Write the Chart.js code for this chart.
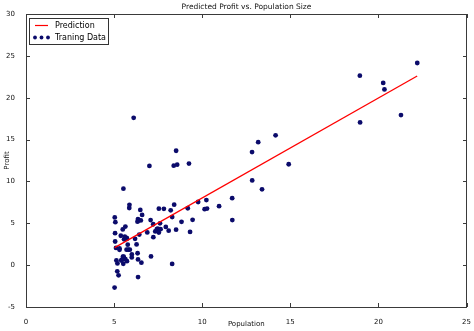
<!DOCTYPE html>
<html>
<head>
<meta charset="utf-8">
<script src="https://cdn.jsdelivr.net/npm/chart.js@4"></script>
</head>
<body style="margin:0">
<canvas id="myChart" width="474" height="331"></canvas>
<script>
// training data (population in 10,000s, profit in $10,000s)
const population = [
    6.1101, 5.5277, 8.5186, 7.0032, 5.8598, 8.3829, 7.4764, 8.5781, 6.4862, 5.0546,
    5.7107, 14.164, 5.734, 8.4084, 5.6407, 5.3794, 6.3654, 5.1301, 6.4296, 7.0708,
    6.1891, 20.27, 5.4901, 6.3261, 5.5649, 18.945, 12.828, 10.957, 13.176, 22.203,
    5.2524, 6.5894, 9.2482, 5.8918, 8.2111, 7.9334, 8.0959, 5.6063, 12.836, 6.3534,
    5.4069, 6.8825, 11.708, 5.7737, 7.8247, 7.0931, 5.0702, 5.8014, 11.7, 5.5416,
    7.5402, 5.3077, 7.4239, 7.6031, 6.3328, 6.3589, 6.2742, 5.6397, 9.3102, 9.4536,
    8.8254, 5.1793, 21.279, 14.908, 18.959, 7.2182, 8.2951, 10.236, 5.4994, 20.341,
    10.136, 7.3345, 6.0062, 7.2259, 5.0269, 6.5479, 7.5386, 5.0365, 10.274, 5.1077,
    5.7292, 5.1884, 6.3557, 9.7687, 6.5159, 8.5172, 9.1802, 6.002, 5.5204, 5.0594,
    5.7077, 7.6366, 5.8707, 5.3054, 8.2934, 13.394, 5.4369
]
const profit = [
    17.592, 9.1302, 13.662, 11.854, 6.8233, 11.886, 4.3483, 12, 6.5987, 3.8166,
    3.2522, 15.505, 3.1551, 7.2258, 0.71618, 3.5129, 5.3048, 0.56077, 3.6518, 5.3893,
    3.1386, 21.767, 4.263, 5.1875, 3.0825, 22.638, 13.501, 7.0467, 14.692, 24.147,
    -1.22, 5.9966, 12.134, 1.8495, 6.5426, 4.5623, 4.1164, 3.3928, 10.117, 5.4974,
    0.55657, 3.9115, 5.3854, 2.4406, 6.7318, 1.0463, 5.1337, 1.844, 8.0043, 1.0179,
    6.7504, 1.8396, 4.2885, 4.9981, 1.4233, -1.4211, 2.4756, 4.6042, 3.9624, 5.4141,
    5.1694, -0.74279, 17.929, 12.054, 17.054, 4.8852, 5.7442, 7.7754, 1.0173, 20.992,
    6.6799, 4.0259, 1.2784, 3.3411, -2.6807, 0.29678, 3.8845, 5.7014, 6.7526, 2.0576,
    0.47953, 0.20421, 0.67861, 7.5435, 5.3436, 4.2415, 6.7981, 0.92695, 0.152, 2.8214,
    1.8451, 4.2959, 7.2029, 1.9869, 0.14454, 9.0551, 0.61705
]

// fitted line endpoints
const lineX = [5.03, 22.2]
const lineY = [2.1, 22.6]

const xTicks = [0, 5, 10, 15, 20, 25]
const yTicks = [-5, 0, 5, 10, 15, 20, 25, 30]

const FONT = 'DejaVu Sans'
const DOT = '#0b0b6b'
const EDGE = '#3a3a3a'

// inward ticks, title and legend like matplotlib
const decor = {
    id: 'decor',
    afterDraw(chart) {
        const c = chart.ctx
        const a = chart.chartArea
        const L = Math.round(a.left), R = Math.round(a.right)
        const T = Math.round(a.top), B = Math.round(a.bottom)
        c.save()
        c.fillStyle = EDGE
        for (const v of xTicks) {
            const px = Math.round(chart.scales.x.getPixelForValue(v))
            c.fillRect(px, B - 4, 1, 4)
            c.fillRect(px, T, 1, 4)
        }
        for (const v of yTicks) {
            const py = Math.round(chart.scales.y.getPixelForValue(v))
            c.fillRect(L, py, 4, 1)
            c.fillRect(R - 4, py, 4, 1)
        }

        // title
        c.fillStyle = '#111'
        c.font = '7.5px "' + FONT + '"'
        c.textAlign = 'center'
        c.textBaseline = 'middle'
        c.fillText('Predicted Profit vs. Population Size', (L + R) / 2, 7)

        // legend
        const lx = L + 3, ly = T + 4
        c.fillStyle = '#fff'
        c.fillRect(lx, ly, 79, 26)
        c.strokeStyle = '#333'
        c.lineWidth = 1
        c.strokeRect(lx + 0.5, ly + 0.5, 79, 26)
        c.strokeStyle = 'red'
        c.lineWidth = 1.2
        c.beginPath()
        c.moveTo(lx + 6, ly + 7.5)
        c.lineTo(lx + 19, ly + 7.5)
        c.stroke()
        c.fillStyle = DOT
        for (const dx of [6, 12.5, 19]) {
            c.beginPath()
            c.arc(lx + dx, ly + 19.5, 1.9, 0, Math.PI * 2)
            c.fill()
        }
        c.fillStyle = '#000'
        c.font = '8px "' + FONT + '"'
        c.textAlign = 'left'
        c.fillText('Prediction', lx + 26, ly + 7.5)
        c.fillText('Traning Data', lx + 26, ly + 19.5)
        c.restore()
    }
}

const frameSide = (position, fit) => ({
    type: 'linear',
    position,
    min: position === 'top' ? 0 : -5,
    max: position === 'top' ? 25 : 30,
    afterFit: fit,
    grid: { display: false },
    border: { display: true, color: EDGE, width: 1 },
    ticks: { display: false }
})

new Chart(document.getElementById('myChart'), {
    type: 'scatter',
    data: {
        datasets: [{
            label: 'Prediction',
            type: 'line',
            data: lineX.map((x, i) => ({ x, y: lineY[i] })),
            borderColor: 'red',
            borderWidth: 1.3,
            pointRadius: 0,
            fill: false
        }, {
            label: 'Traning Data',
            data: population.map((x, i) => ({ x, y: profit[i] })),
            backgroundColor: DOT,
            borderColor: DOT,
            pointRadius: 2.4,
            borderWidth: 0
        }]
    },
    options: {
        responsive: false,
        animation: false,
        layout: { padding: { top: 14, right: 7, left: 0, bottom: 0 } },
        plugins: {
            legend: { display: false },
            tooltip: { enabled: false }
        },
        scales: {
            x: {
                type: 'linear',
                min: 0,
                max: 25,
                afterFit: s => { s.height = 24 },
                afterBuildTicks: s => { s.ticks = xTicks.map(value => ({ value })) },
                grid: { display: false },
                border: { display: true, color: EDGE, width: 1 },
                ticks: { color: '#111', font: { family: FONT, size: 7 }, padding: 3, maxRotation: 0 },
                title: { display: true, text: 'Population', color: '#111', font: { family: FONT, size: 7 }, padding: { top: 0, bottom: 3 } }
            },
            y: {
                type: 'linear',
                min: -5,
                max: 30,
                afterFit: s => { s.width = 26 },
                afterBuildTicks: s => { s.ticks = yTicks.map(value => ({ value })) },
                grid: { display: false },
                border: { display: true, color: EDGE, width: 1 },
                ticks: { color: '#111', font: { family: FONT, size: 7 }, padding: 3 },
                title: { display: true, text: 'Profit', color: '#111', font: { family: FONT, size: 7 }, padding: { top: 3, bottom: 0 } }
            },
            xTop: frameSide('top', s => { s.height = 0 }),
            yRight: frameSide('right', s => { s.width = 0 })
        }
    },
    plugins: [decor]
})
</script>
</body>
</html>
